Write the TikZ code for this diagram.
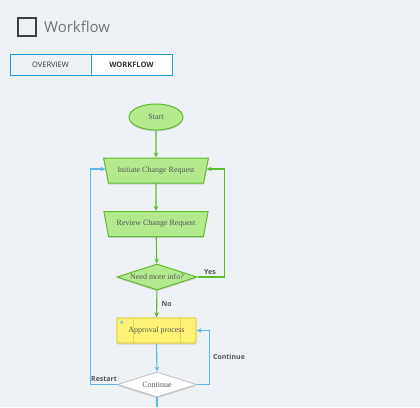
\documentclass[tikz,border=0pt]{standalone}
\usepackage{fontspec}
\setmainfont{Liberation Serif}
\newfontfamily\uifont{Open Sans}
\usetikzlibrary{shapes.geometric,arrows.meta,shadows}
\definecolor{pagebg}{HTML}{EEF2F6}
\definecolor{tabblue}{HTML}{1E9BD7}
\definecolor{flowgreen}{HTML}{5CBC2C}
\definecolor{fillgreen}{HTML}{B4E98E}
\definecolor{flowblue}{HTML}{5DB7E8}
\definecolor{fillyellow}{HTML}{FFF377}
\definecolor{edgeyellow}{HTML}{E5D64A}
\definecolor{labelgray}{HTML}{555555}
\begin{document}
\begin{tikzpicture}
			[x=1pt, y=-1pt, >={Stealth[length=5pt,width=4.5pt]},
			 every node/.style={font=\fontsize{8}{9}\selectfont, text=labelgray},
			 softshadow/.style={drop shadow={shadow xshift=0pt, shadow yshift=-1.5pt, opacity=0.12, fill=black}},
			 startnode/.style={ellipse, draw=flowgreen, fill=fillgreen, line width=1pt, minimum width=54pt, minimum height=26pt, inner sep=0pt, softshadow},
			 tasknode/.style={trapezium, shape border rotate=180, trapezium stretches=true, draw=flowgreen, fill=fillgreen, line width=1pt, minimum width=105pt, minimum height=25pt, trapezium left angle=62, trapezium right angle=62, inner sep=0pt, softshadow},
			 asknode/.style={diamond, draw=flowgreen, fill=fillgreen, line width=1pt, minimum width=80pt, minimum height=26pt, aspect=3, inner sep=0pt, softshadow},
			 tabnode/.style={draw=tabblue, line width=0.8pt, minimum width=81pt, minimum height=21pt, font=\uifont\fontsize{7.5}{9}\selectfont, text=black!80},
			 flowlabel/.style={font=\uifont\bfseries\fontsize{7}{8}\selectfont, text=labelgray},
			 greenline/.style={draw=flowgreen, line width=1.1pt},
			 blueline/.style={draw=flowblue, line width=1.1pt}]
			\fill[pagebg] (0,0) rectangle (420,407);
			% header
			\node[draw=black!75, line width=1.2pt, minimum size=18pt, inner sep=0pt] (box) at (27,27) {};
			\node[anchor=west, font=\uifont\fontsize{15}{18}\selectfont, text=black!55, inner sep=0pt] (title) at (44,27) {Workflow};
			\node[tabnode, fill=pagebg] (ov) at (50.5,64.5) {OVERVIEW};
			\node[tabnode, fill=white, font=\uifont\bfseries\fontsize{7.5}{9}\selectfont] (wf) at (131.5,64.5) {WORKFLOW};
			% flow
			\node[startnode] (start) at (156,117) {Start};
			\node[tasknode] (init) at (156,170.5) {Initiate Change Request};
			\node[tasknode] (rev) at (156,224) {Review Change Request};
			\node[asknode] (info) at (157,277) {Need more info?};
			\node[draw=edgeyellow, fill=fillyellow, line width=1.3pt, rounded corners=1pt, minimum width=79pt, minimum height=25pt, inner sep=0pt, softshadow,
				path picture={\draw[edgeyellow, line width=0.6pt] ([xshift=16pt]path picture bounding box.north west) -- ([xshift=16pt]path picture bounding box.south west)
				([xshift=-16pt]path picture bounding box.north east) -- ([xshift=-16pt]path picture bounding box.south east);}] (appr) at (156.5,330.5) {Approval process};
			\node[text=flowblue, font=\uifont\bfseries\fontsize{8}{8}\selectfont, inner sep=0pt] (plus) at (122,323) {+};
			\node[diamond, draw=black!25, fill=white, line width=0.8pt, minimum width=79pt, minimum height=25pt, aspect=3, inner sep=0pt, softshadow] (cont) at (157,384.5) {Continue};
			\coordinate (bot) at (157,407);
			\draw (start) edge[greenline, ->] (init);
			\draw (init) edge[greenline, ->] (rev);
			\draw (rev) edge[greenline, ->] (info);
			\draw (info) edge[greenline, ->] node[flowlabel, right=1pt] {No} (appr);
			\draw (appr) edge[blueline, ->] (cont);
			\draw[blueline] (cont) -- (bot);
			\draw[greenline, ->] (info.east) -- ++(27,0) |- ([yshift=1.5pt]init.east);
			\draw[blueline, ->] (cont.west) -- ++(-27,0) |- ([yshift=1.5pt]init.west);
			\draw[blueline, ->] (cont.east) -- ++(13,0) |- (appr.east);
			\node[flowlabel] (yes) at (210,272) {Yes};
			\node[flowlabel] (restart) at (104,379) {Restart};
			\node[flowlabel] (again) at (229,357) {Continue};
			\end{tikzpicture}
\end{document}
